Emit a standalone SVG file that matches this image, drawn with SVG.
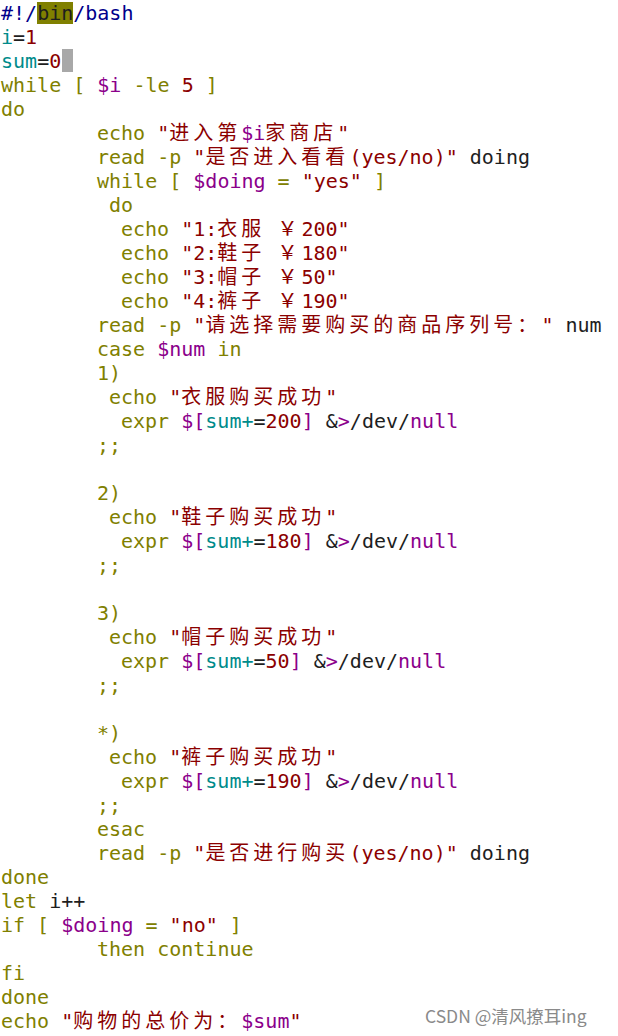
<svg xmlns="http://www.w3.org/2000/svg" width="618" height="1036" viewBox="0 0 618 1036">
<style>
text{font-family:"DejaVu Sans Mono","Noto Sans CJK SC",monospace;font-size:20px;fill:#1e1e1e;white-space:pre}
.k{fill:#808000}.s{fill:#8b0000}.v{fill:#8b008b}.t{fill:#008b8b}.h{fill:#00008b}
.c{letter-spacing:4px}
.w{font-family:"Noto Sans CJK SC","Noto Sans",sans-serif;font-size:17.5px;fill:#8a8a8a}
</style>
<rect width="618" height="1036" fill="#fff"/>
<rect x="37" y="2" width="36" height="22" fill="#808000"/>
<rect x="62" y="49" width="11" height="23" fill="#a8a8a8"/>
<g xml:space="preserve">
<text x="1" y="20"><tspan class="h">#!/</tspan><tspan>bin</tspan><tspan class="h">/bash</tspan></text>
<text x="1" y="44"><tspan class="t">i</tspan>=<tspan class="s">1</tspan></text>
<text x="1" y="68"><tspan class="t">sum</tspan>=<tspan class="s">0</tspan></text>
<text x="1" y="92"><tspan class="k">while [ </tspan><tspan class="v">$i</tspan><tspan class="k"> -le </tspan><tspan class="s">5</tspan><tspan class="k"> ]</tspan></text>
<text x="1" y="116" class="k">do</text>
<text x="97" y="140"><tspan class="k">echo </tspan><tspan class="s">"</tspan><tspan class="s c">进入第</tspan><tspan class="v">$i</tspan><tspan class="s c">家商店</tspan><tspan class="s">"</tspan></text>
<text x="97" y="164"><tspan class="k">read -p </tspan><tspan class="s">"</tspan><tspan class="s c">是否进入看看</tspan><tspan class="s">(yes/no)"</tspan><tspan> doing</tspan></text>
<text x="97" y="188"><tspan class="k">while [ </tspan><tspan class="v">$doing</tspan><tspan class="k"> = </tspan><tspan class="s">"yes"</tspan><tspan class="k"> ]</tspan></text>
<text x="109" y="212" class="k">do</text>
<text x="121" y="236"><tspan class="k">echo </tspan><tspan class="s">"1:</tspan><tspan class="s c">衣服</tspan><tspan class="s"> </tspan><tspan class="s c">￥</tspan><tspan class="s">200"</tspan></text>
<text x="121" y="260"><tspan class="k">echo </tspan><tspan class="s">"2:</tspan><tspan class="s c">鞋子</tspan><tspan class="s"> </tspan><tspan class="s c">￥</tspan><tspan class="s">180"</tspan></text>
<text x="121" y="284"><tspan class="k">echo </tspan><tspan class="s">"3:</tspan><tspan class="s c">帽子</tspan><tspan class="s"> </tspan><tspan class="s c">￥</tspan><tspan class="s">50"</tspan></text>
<text x="121" y="308"><tspan class="k">echo </tspan><tspan class="s">"4:</tspan><tspan class="s c">裤子</tspan><tspan class="s"> </tspan><tspan class="s c">￥</tspan><tspan class="s">190"</tspan></text>
<text x="97" y="332"><tspan class="k">read -p </tspan><tspan class="s">"</tspan><tspan class="s c">请选择需要购买的商品序列号：</tspan><tspan class="s">"</tspan><tspan> num</tspan></text>
<text x="97" y="356"><tspan class="k">case </tspan><tspan class="v">$num</tspan><tspan class="k"> in</tspan></text>
<text x="97" y="380" class="k">1)</text>
<text x="109" y="404"><tspan class="k">echo </tspan><tspan class="s">"</tspan><tspan class="s c">衣服购买成功</tspan><tspan class="s">"</tspan></text>
<text x="121" y="428"><tspan class="k">expr </tspan><tspan class="v">$[</tspan><tspan class="t">sum+</tspan>=<tspan class="s">200</tspan><tspan class="v">]</tspan> &amp;<tspan class="v">&gt;</tspan>/dev/<tspan class="v">null</tspan></text>
<text x="97" y="452" class="k">;;</text>
<text x="97" y="500" class="k">2)</text>
<text x="109" y="524"><tspan class="k">echo </tspan><tspan class="s">"</tspan><tspan class="s c">鞋子购买成功</tspan><tspan class="s">"</tspan></text>
<text x="121" y="548"><tspan class="k">expr </tspan><tspan class="v">$[</tspan><tspan class="t">sum+</tspan>=<tspan class="s">180</tspan><tspan class="v">]</tspan> &amp;<tspan class="v">&gt;</tspan>/dev/<tspan class="v">null</tspan></text>
<text x="97" y="572" class="k">;;</text>
<text x="97" y="620" class="k">3)</text>
<text x="109" y="644"><tspan class="k">echo </tspan><tspan class="s">"</tspan><tspan class="s c">帽子购买成功</tspan><tspan class="s">"</tspan></text>
<text x="121" y="668"><tspan class="k">expr </tspan><tspan class="v">$[</tspan><tspan class="t">sum+</tspan>=<tspan class="s">50</tspan><tspan class="v">]</tspan> &amp;<tspan class="v">&gt;</tspan>/dev/<tspan class="v">null</tspan></text>
<text x="97" y="692" class="k">;;</text>
<text x="97" y="740" class="k">*)</text>
<text x="109" y="764"><tspan class="k">echo </tspan><tspan class="s">"</tspan><tspan class="s c">裤子购买成功</tspan><tspan class="s">"</tspan></text>
<text x="121" y="788"><tspan class="k">expr </tspan><tspan class="v">$[</tspan><tspan class="t">sum+</tspan>=<tspan class="s">190</tspan><tspan class="v">]</tspan> &amp;<tspan class="v">&gt;</tspan>/dev/<tspan class="v">null</tspan></text>
<text x="97" y="812" class="k">;;</text>
<text x="97" y="836" class="k">esac</text>
<text x="97" y="860"><tspan class="k">read -p </tspan><tspan class="s">"</tspan><tspan class="s c">是否进行购买</tspan><tspan class="s">(yes/no)"</tspan><tspan> doing</tspan></text>
<text x="1" y="884" class="k">done</text>
<text x="1" y="908"><tspan class="k">let</tspan> i++</text>
<text x="1" y="932"><tspan class="k">if [ </tspan><tspan class="v">$doing</tspan><tspan class="k"> = </tspan><tspan class="s">"no"</tspan><tspan class="k"> ]</tspan></text>
<text x="97" y="956" class="k">then continue</text>
<text x="1" y="980" class="k">fi</text>
<text x="1" y="1004" class="k">done</text>
<text x="1" y="1028"><tspan class="k">echo </tspan><tspan class="s">"</tspan><tspan class="s c">购物的总价为：</tspan><tspan class="v">$sum</tspan><tspan class="s">"</tspan></text>
<text x="425" y="1023" class="w">CSDN @清风撩耳ing</text>
</g>
</svg>
